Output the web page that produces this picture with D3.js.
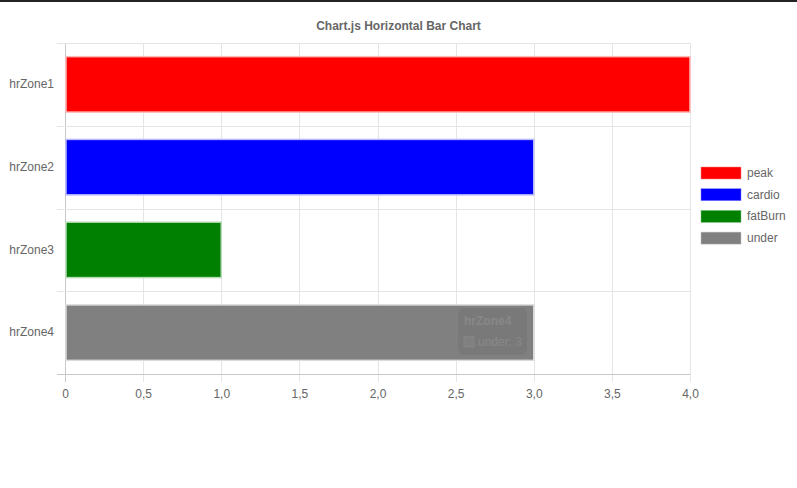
<!DOCTYPE html>
<html>
<head>
<meta charset="utf-8">
<script src="https://cdn.jsdelivr.net/npm/d3@7"></script>
<style>
  body { margin: 0; background: #fff; }
  svg { display: block; font-family: 'Liberation Sans', Arial, Helvetica, sans-serif; }
</style>
</head>
<body>
<div id="chart"></div>
<script>
const zones = ['hrZone1', 'hrZone2', 'hrZone3', 'hrZone4'];
const series = ['peak', 'cardio', 'fatBurn', 'under'];
const values = [4, 3, 1, 3];
const colors = ['#ff0000', '#0000ff', '#008000', '#808080'];
const xTicks = [0, 0.5, 1, 1.5, 2, 2.5, 3, 3.5, 4];

const width = 797, height = 488;
const margin = { top: 43, right: 107, bottom: 114, left: 65 };
const plotW = width - margin.left - margin.right,
  plotH = height - margin.top - margin.bottom;

const svg = d3.select('#chart').append('svg')
  .attr('width', width)
  .attr('height', height);

// dark strip along the top edge
svg.append('rect')
  .attr('x', 0).attr('y', 0)
  .attr('width', width).attr('height', 2)
  .attr('fill', '#222');

svg.append('text')
  .attr('x', width / 2)
  .attr('y', 30)
  .attr('text-anchor', 'middle')
  .attr('font-size', 12)
  .attr('font-weight', 'bold')
  .attr('fill', '#666')
  .text('Chart.js Horizontal Bar Chart');

let xScale = d3.scaleLinear().domain([0, 4]).range([0, plotW]);
let yScale = d3.scaleBand().domain(zones).range([0, plotH])
  .paddingInner(0.33).paddingOuter(0.165);
let yGrid = d3.scaleLinear().domain([0, zones.length]).range([0, plotH]);

const vis = svg.append('g')
  .attr('transform', 'translate(' + margin.left + ',' + margin.top + ')');

// vertical grid lines + ticks below
vis.append('g')
  .selectAll('line')
  .data(xTicks)
  .join('line')
  .attr('x1', (d) => Math.round(xScale(d)) + 0.5)
  .attr('x2', (d) => Math.round(xScale(d)) + 0.5)
  .attr('y1', 0)
  .attr('y2', plotH + 8)
  .attr('stroke', (d) => (d === 0 ? '#c8c8c8' : '#e5e5e5'));

// horizontal grid lines + ticks on left
vis.append('g')
  .selectAll('line')
  .data(d3.range(zones.length + 1))
  .join('line')
  .attr('x1', -8)
  .attr('x2', plotW)
  .attr('y1', (d) => Math.round(yGrid(d)) + 0.5)
  .attr('y2', (d) => Math.round(yGrid(d)) + 0.5)
  .attr('stroke', (d) => (d === zones.length ? '#c8c8c8' : '#e5e5e5'));

// bars
vis.append('g')
  .selectAll('rect')
  .data(zones)
  .join('rect')
  .attr('x', xScale(0) + 1)
  .attr('y', (d) => yScale(d))
  .attr('width', (d, i) => xScale(values[i]) - xScale(0) - 1)
  .attr('height', yScale.bandwidth())
  .attr('fill', (d, i) => colors[i])
  .attr('stroke', (d, i) => d3.interpolateRgb(colors[i], '#fff')(0.72))
  .attr('stroke-width', 1.5);

// x axis labels
const xAxis = d3.axisBottom(xScale)
  .tickValues(xTicks)
  .tickSize(0)
  .tickPadding(15)
  .tickFormat((x) => (x === 0 ? '0' : x.toFixed(1).replace('.', ',')));

const gx = vis.append('g')
  .attr('transform', 'translate(0,' + plotH + ')')
  .call(xAxis);
gx.select('.domain').remove();
gx.selectAll('text')
  .attr('font-size', 12)
  .attr('font-family', "'Liberation Sans', Arial, sans-serif")
  .attr('fill', '#666');

// y axis labels
const yAxis = d3.axisLeft(yScale).tickSize(0).tickPadding(11);
const gy = vis.append('g').call(yAxis);
gy.select('.domain').remove();
gy.selectAll('text')
  .attr('font-size', 12)
  .attr('font-family', "'Liberation Sans', Arial, sans-serif")
  .attr('fill', '#666');

// faint tooltip over last bar
const tipZone = zones[3];
const tip = svg.append('g')
  .attr('transform', 'translate(458,' + (margin.top + yScale(tipZone) + 3) + ')')
  .attr('opacity', 0.06);
tip.append('rect')
  .attr('width', 69).attr('height', 47)
  .attr('rx', 6).attr('ry', 6)
  .attr('fill', 'rgba(0,0,0,0.8)');
tip.append('text')
  .attr('x', 6).attr('y', 17)
  .attr('font-size', 12).attr('font-weight', 'bold')
  .attr('fill', '#fff')
  .text(tipZone);
tip.append('rect')
  .attr('x', 6).attr('y', 29)
  .attr('width', 10).attr('height', 10)
  .attr('fill', colors[3])
  .attr('stroke', '#fff');
tip.append('text')
  .attr('x', 20).attr('y', 38)
  .attr('font-size', 12)
  .attr('fill', '#fff')
  .text(series[3] + ': ' + values[3]);

// legend
const legend = svg.append('g')
  .attr('transform', 'translate(701,167)');
const item = legend.selectAll('g')
  .data(series)
  .join('g')
  .attr('transform', (d, i) => 'translate(0,' + i * 21.7 + ')');
item.append('rect')
  .attr('width', 40).attr('height', 12)
  .attr('fill', (d, i) => colors[i])
  .attr('stroke', (d, i) => d3.interpolateRgb(colors[i], '#fff')(0.5))
  .attr('stroke-width', 0.5);
item.append('text')
  .attr('x', 46).attr('y', 10)
  .attr('font-size', 12)
  .attr('fill', '#666')
  .text((d) => d);
</script>
</body>
</html>
